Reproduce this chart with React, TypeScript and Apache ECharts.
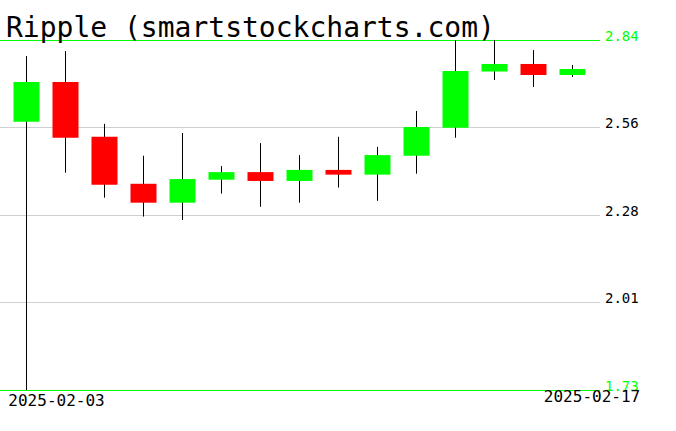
import React, { useEffect, useRef } from "react";
import * as echarts from "echarts";

const dates = [
  "2025-02-03", "2025-02-04", "2025-02-05", "2025-02-06", "2025-02-07",
  "2025-02-08", "2025-02-09", "2025-02-10", "2025-02-11", "2025-02-12",
  "2025-02-13", "2025-02-14", "2025-02-15", "2025-02-16", "2025-02-17",
];
const opens = [2.581, 2.707, 2.533, 2.384, 2.324, 2.397, 2.421, 2.393, 2.428, 2.413, 2.473, 2.562, 2.740, 2.764, 2.729];
const closes = [2.707, 2.530, 2.381, 2.324, 2.399, 2.421, 2.393, 2.428, 2.413, 2.475, 2.564, 2.742, 2.764, 2.729, 2.748];
const lows = [1.730, 2.419, 2.340, 2.280, 2.269, 2.353, 2.311, 2.324, 2.372, 2.330, 2.416, 2.530, 2.713, 2.691, 2.723];
const highs = [2.789, 2.805, 2.574, 2.473, 2.545, 2.440, 2.513, 2.475, 2.533, 2.501, 2.615, 2.840, 2.840, 2.808, 2.761];
const yTickLabels = ["1.73", "2.01", "2.28", "2.56", "2.84"];

const Y_MIN = 1.73;
const Y_MAX = 2.84;
const Y_INTERVAL = 0.2775;

const GREEN = "#00ff00";
const RED = "#ff0000";
const FONT = "DejaVu Sans Mono";

export default function App() {
  const ref = useRef<HTMLDivElement>(null);
  useEffect(() => {
    if (!ref.current) return;
    const chart = echarts.init(ref.current, null, { renderer: "svg" });
    const wickData = dates.map((_, i) => [opens[i], closes[i], lows[i], highs[i]]);
    const bodyData = dates.map((_, i) => [
      opens[i], closes[i], Math.min(opens[i], closes[i]), Math.max(opens[i], closes[i]),
    ]);
    const last = dates.length - 1;
    chart.setOption({
      animation: false,
      backgroundColor: "#ffffff",
      title: {
        text: "Ripple (smartstockcharts.com)",
        left: 1,
        top: 8,
        textStyle: { fontFamily: FONT, fontSize: 28, fontWeight: "normal", color: "#000" },
      },
      grid: [
        { left: 0, width: 600, top: 40, height: 350 },
        { left: 7, width: 585, top: 40, height: 350 },
      ],
      xAxis: [
        { type: "category", gridIndex: 0, data: dates, show: false },
        {
          type: "category",
          gridIndex: 1,
          data: dates,
          axisLine: { show: false },
          axisTick: { show: false },
          splitLine: { show: false },
          axisLabel: {
            interval: (i: number) => i === 0 || i === last,
            margin: -2,
            fontFamily: FONT,
            fontSize: 16,
            color: "#000",
            formatter: (v: string, i: number) => (i === 0 ? `{a|${v}}` : `{b|${v}}`),
            rich: {
              a: { padding: [4, 0, 0, 60], fontFamily: FONT, fontSize: 16, color: "#000" },
              b: { padding: [0, 0, 0, 39], fontFamily: FONT, fontSize: 16, color: "#000" },
            },
          },
        },
      ],
      yAxis: [
        {
          type: "value",
          gridIndex: 0,
          position: "right",
          min: Y_MIN,
          max: Y_MAX,
          interval: Y_INTERVAL,
          axisLine: { show: false },
          axisTick: { show: false },
          splitLine: {
            show: true,
            lineStyle: { color: [GREEN, "#d0d0d0", "#d0d0d0", "#d0d0d0", GREEN], width: 1 },
          },
          axisLabel: {
            margin: 5,
            fontFamily: FONT,
            fontSize: 14,
            verticalAlign: "bottom",
            formatter: (_v: number, i: number) => {
              const t = yTickLabels[i] ?? "";
              return i === 0 || i === yTickLabels.length - 1 ? `{g|${t}}` : `{k|${t}}`;
            },
            rich: {
              g: { color: GREEN, fontFamily: FONT, fontSize: 14, lineHeight: 9 },
              k: { color: "#000", fontFamily: FONT, fontSize: 14, lineHeight: 9 },
            },
          },
        },
        { type: "value", gridIndex: 1, min: Y_MIN, max: Y_MAX, show: false, splitLine: { show: false } },
      ],
      series: [
        {
          type: "candlestick",
          xAxisIndex: 1,
          yAxisIndex: 1,
          data: wickData,
          barWidth: 1,
          itemStyle: {
            color: "#000", color0: "#000", borderColor: "#000", borderColor0: "#000", borderWidth: 1,
          },
        },
        {
          type: "candlestick",
          xAxisIndex: 1,
          yAxisIndex: 1,
          data: bodyData,
          barWidth: 27,
          itemStyle: {
            color: GREEN, color0: RED, borderColor: GREEN, borderColor0: RED, borderWidth: 0,
          },
        },
      ],
    });
    return () => chart.dispose();
  }, []);
  return (
    <div
      ref={ref}
      style={{ position: "fixed", left: 0, top: 0, width: 676, height: 431, background: "#fff" }}
    />
  );
}
